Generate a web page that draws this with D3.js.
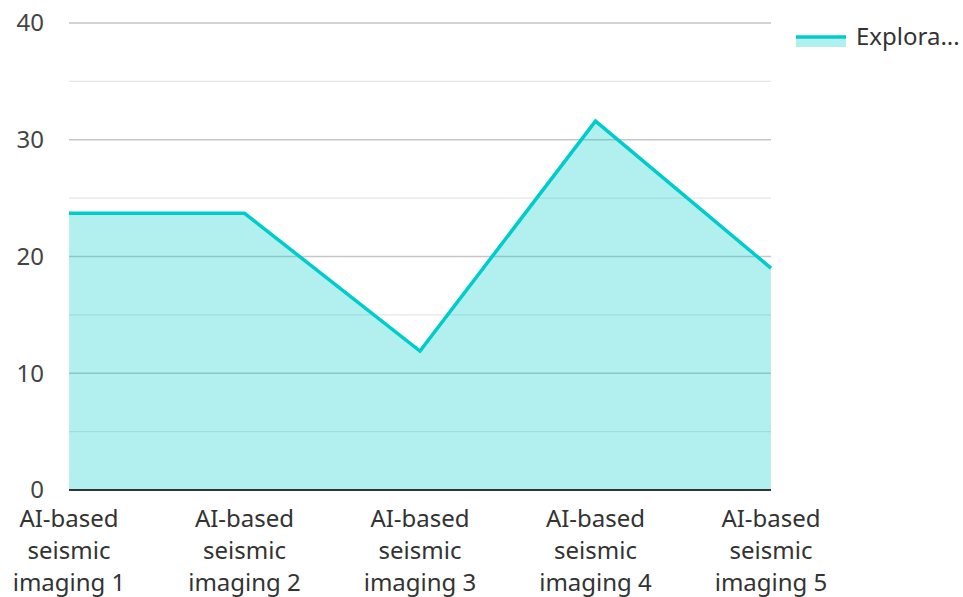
<!DOCTYPE html>
<html><head><meta charset="utf-8">
<script src="https://cdn.jsdelivr.net/npm/d3@7/dist/d3.min.js"></script>
<style>body{margin:0;background:#fff;}text{font-family:"Noto Sans",sans-serif;}</style>
</head><body><svg id="c" width="963" height="597"></svg>
<script>
const categories = ["AI-based seismic imaging 1","AI-based seismic imaging 2","AI-based seismic imaging 3","AI-based seismic imaging 4","AI-based seismic imaging 5"];
const seriesName = "Exploration";
const values = [23.7, 23.7, 11.9, 31.6, 19.0];
const yTicks = [0, 10, 20, 30, 40];
const yMinorTicks = [5, 15, 25, 35];

const svg = d3.select("#c");
const L = 69, R = 771, T = 23, B = 490;
const x = d3.scalePoint().domain(categories).range([L, R]).padding(0);
const y = d3.scaleLinear().domain([0, 40]).range([B, T]);

// grid
svg.append("g").selectAll("line").data(yMinorTicks).join("line")
  .attr("x1", L).attr("x2", R).attr("y1", d => y(d)).attr("y2", d => y(d))
  .attr("stroke", "#e6e6e6").attr("stroke-width", 1.3);
svg.append("g").selectAll("line").data(yTicks.filter(d => d > 0)).join("line")
  .attr("x1", L).attr("x2", R).attr("y1", d => y(d)).attr("y2", d => y(d))
  .attr("stroke", "#c6c6c6").attr("stroke-width", 1.5);

const data = categories.map((c, i) => ({c, v: values[i]}));
const area = d3.area().x(d => x(d.c)).y0(y(0)).y1(d => y(d.v));
const line = d3.line().x(d => x(d.c)).y(d => y(d.v));
svg.append("path").datum(data).attr("d", area).attr("fill", "#00cccc").attr("fill-opacity", 0.3);
svg.append("path").datum(data).attr("d", line).attr("fill", "none").attr("stroke", "#00cccc").attr("stroke-width", 3.5);

// x axis line
svg.append("line").attr("x1", L).attr("x2", R).attr("y1", B).attr("y2", B).attr("stroke", "#333").attr("stroke-width", 2);

// y labels
svg.append("g").selectAll("text").data(yTicks).join("text")
  .attr("x", 44).attr("y", d => y(d)).attr("dy", "0.35em").attr("text-anchor", "end")
  .attr("font-size", 24).attr("fill", "#444").text(d => d);

// x labels
const xl = svg.append("g").selectAll("text").data(categories).join("text")
  .attr("text-anchor", "middle").attr("font-size", 24).attr("fill", "#333");
xl.each(function(d) {
  const words = ["AI-based", "seismic", d.replace("AI-based seismic ", "")];
  const t = d3.select(this);
  words.forEach((w, i) => t.append("tspan").attr("x", x(d)).attr("y", 527 + i * 32).text(w));
});

// legend
svg.append("rect").attr("x", 796).attr("y", 37).attr("width", 50).attr("height", 10).attr("fill", "#00cccc").attr("fill-opacity", 0.3);
svg.append("line").attr("x1", 796).attr("x2", 846).attr("y1", 37).attr("y2", 37).attr("stroke", "#00cccc").attr("stroke-width", 3.5);
svg.append("text").attr("x", 856).attr("y", 37).attr("dy", "0.35em").attr("font-size", 24).attr("fill", "#333").text("Explora...");
</script></body></html>
